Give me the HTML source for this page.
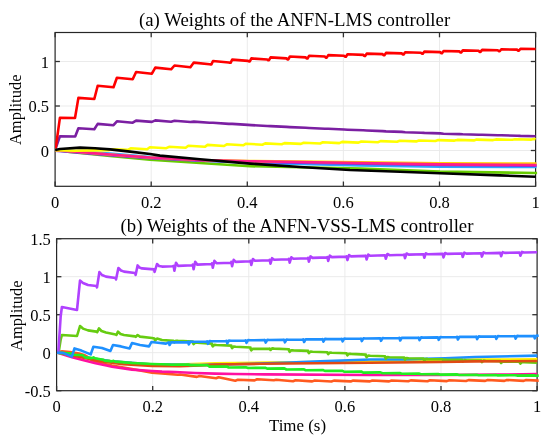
<!DOCTYPE html>
<html><head><meta charset="utf-8"><title>Weights</title>
<style>
html,body{margin:0;padding:0;background:#fff;}
svg{display:block;}
text{font-family:"Liberation Serif",serif;fill:#000;}
.tl{font-size:16.5px;}
.ti{font-size:18.75px;}
.g{stroke:#e9e9e9;stroke-width:0.9;}
.bx{fill:none;stroke:#262626;stroke-width:1.2;}
.tk{stroke:#303030;stroke-width:1.3;}
.cv path{fill:none;stroke-width:2.6;stroke-linejoin:round;stroke-linecap:butt;}
</style></head><body>
<svg width="550" height="441" viewBox="0 0 550 441">
<rect width="550" height="441" fill="#fff"/>
<line x1="151.2" y1="32.5" x2="151.2" y2="186.3" class="g"/>
<line x1="247.3" y1="32.5" x2="247.3" y2="186.3" class="g"/>
<line x1="343.4" y1="32.5" x2="343.4" y2="186.3" class="g"/>
<line x1="439.5" y1="32.5" x2="439.5" y2="186.3" class="g"/>
<line x1="55.1" y1="150.5" x2="535.6" y2="150.5" class="g"/>
<line x1="55.1" y1="106.0" x2="535.6" y2="106.0" class="g"/>
<line x1="55.1" y1="61.5" x2="535.6" y2="61.5" class="g"/>
<rect x="55.1" y="32.5" width="480.5" height="153.8" class="bx"/>
<line x1="55.1" y1="186.3" x2="55.1" y2="181.5" class="tk"/>
<line x1="55.1" y1="32.5" x2="55.1" y2="37.3" class="tk"/>
<line x1="151.2" y1="186.3" x2="151.2" y2="181.5" class="tk"/>
<line x1="151.2" y1="32.5" x2="151.2" y2="37.3" class="tk"/>
<line x1="247.3" y1="186.3" x2="247.3" y2="181.5" class="tk"/>
<line x1="247.3" y1="32.5" x2="247.3" y2="37.3" class="tk"/>
<line x1="343.4" y1="186.3" x2="343.4" y2="181.5" class="tk"/>
<line x1="343.4" y1="32.5" x2="343.4" y2="37.3" class="tk"/>
<line x1="439.5" y1="186.3" x2="439.5" y2="181.5" class="tk"/>
<line x1="439.5" y1="32.5" x2="439.5" y2="37.3" class="tk"/>
<line x1="535.6" y1="186.3" x2="535.6" y2="181.5" class="tk"/>
<line x1="535.6" y1="32.5" x2="535.6" y2="37.3" class="tk"/>
<line x1="55.1" y1="150.5" x2="59.9" y2="150.5" class="tk"/>
<line x1="535.6" y1="150.5" x2="530.8000000000001" y2="150.5" class="tk"/>
<line x1="55.1" y1="106.0" x2="59.9" y2="106.0" class="tk"/>
<line x1="535.6" y1="106.0" x2="530.8000000000001" y2="106.0" class="tk"/>
<line x1="55.1" y1="61.5" x2="59.9" y2="61.5" class="tk"/>
<line x1="535.6" y1="61.5" x2="530.8000000000001" y2="61.5" class="tk"/>
<clipPath id="c1"><rect x="55.1" y="32.5" width="482.1" height="153.8"/></clipPath>
<g class="cv" clip-path="url(#c1)">
<path d="M55.6,148.5 L59.9,136.3 L75.2,136.5 L78.4,128.3 L94.3,129.2 L97.7,123.9 L113.5,125.2 L116.9,121.3 L132.7,122.7 L136.1,120.6 L151.9,121.9 L155.3,120.4 L171.1,121.7 L174.5,120.8 L190.4,122.0 L193.8,121.6 L209.6,122.7 L213.0,122.8 L228.8,123.9 L232.2,123.9 L248.0,124.9 L251.4,125.1 L267.2,126.0 L270.6,126.1 L286.5,126.9 L289.9,127.1 L305.7,127.8 L309.1,128.0 L324.9,128.7 L328.3,128.8 L344.1,129.5 L347.5,129.7 L363.3,130.3 L366.7,130.5 L382.6,131.1 L386.0,131.4 L401.8,131.9 L405.2,132.2 L421.0,132.7 L424.4,132.9 L440.2,133.4 L443.6,133.7 L459.4,134.1 L462.8,134.3 L478.7,134.7 L482.1,134.8 L497.9,135.2 L501.3,135.3 L517.1,135.7 L520.5,135.9 L535.6,136.3" stroke="#7b1fa2"/>
<path d="M55.5,149.5 L59.9,117.9 L75.0,118.0 L78.4,97.9 L94.3,99.0 L97.7,85.8 L113.5,87.3 L116.9,77.7 L132.7,79.2 L136.1,72.0 L151.9,73.7 L155.3,67.6 L171.1,69.3 L174.5,65.5 L190.4,67.2 L193.8,62.6 L209.6,64.3 L210.5,64.4 L211.4,64.4 L213.0,61.0 L228.8,62.5 L229.7,62.8 L230.6,62.8 L232.2,59.6 L248.0,60.9 L248.9,61.4 L249.8,61.4 L251.4,58.4 L267.2,59.5 L268.1,60.2 L269.0,60.2 L270.6,57.4 L286.5,58.4 L287.4,59.4 L288.3,59.4 L289.9,56.5 L305.7,57.4 L306.6,58.5 L307.5,58.5 L309.1,55.8 L324.9,56.5 L325.8,57.6 L326.7,57.6 L328.3,55.1 L344.1,55.7 L345.0,56.8 L345.9,56.8 L347.5,54.3 L363.3,54.9 L364.2,56.0 L365.1,56.0 L366.7,53.6 L382.6,54.1 L383.5,55.2 L384.4,55.2 L386.0,52.9 L401.8,53.4 L402.7,54.5 L403.6,54.5 L405.2,52.2 L421.0,52.7 L421.9,53.8 L422.8,53.8 L424.4,51.6 L440.2,52.1 L441.1,53.2 L442.0,53.2 L443.6,51.0 L459.4,51.4 L460.3,52.5 L461.2,52.5 L462.8,50.4 L478.7,50.8 L479.6,51.9 L480.5,51.9 L482.1,49.9 L497.9,50.2 L498.8,51.3 L499.7,51.3 L501.3,49.3 L517.1,49.6 L518.0,50.7 L518.9,50.7 L520.5,48.7 L535.6,49.0" stroke="#ff0000"/>
<path d="M55.0,150.0 L70.0,152.0 L110.0,156.0 L150.0,159.8 L200.0,163.0 L250.0,166.2 L300.0,167.3 L360.0,168.5 L440.0,171.6 L535.7,173.0 L537.5,173.0" stroke="#66cc00"/>
<path d="M55.0,150.0 L80.0,151.5 L110.0,153.5 L150.0,157.0 L200.0,160.5 L250.0,162.8 L300.0,164.0 L360.0,165.5 L440.0,166.6 L536.5,167.0" stroke="#2aa8ff"/>
<path d="M55.0,150.6 L80.0,152.6 L110.0,155.1 L150.0,158.1 L200.0,160.6 L250.0,161.8 L300.0,162.6 L360.0,163.6 L440.0,165.0 L536.5,165.6" stroke="#8a2be2"/>
<path d="M55.0,150.0 L80.0,152.0 L110.0,154.5 L150.0,157.5 L200.0,160.0 L250.0,161.1 L300.0,161.6 L360.0,162.3 L440.0,163.3 L536.5,163.6" stroke="#ffd400"/>
<path d="M55.0,150.0 L80.0,152.0 L110.0,154.5 L150.0,157.5 L200.0,160.0 L250.0,161.2 L300.0,162.0 L360.0,163.0 L440.0,164.4 L536.5,165.0" stroke="#ff1c8c"/>
<path d="M55.0,150.3 L75.0,150.7 L95.0,150.4 L108.5,150.3 L111.5,149.2 L127.9,149.9 L130.7,148.3 L147.1,149.3 L149.9,147.2 L166.3,148.2 L169.1,146.8 L185.6,147.8 L188.4,145.7 L204.8,146.8 L207.6,144.9 L224.0,146.0 L226.8,144.3 L243.2,145.3 L246.0,143.7 L262.4,144.7 L265.2,143.4 L281.7,144.3 L284.5,143.1 L300.9,143.9 L303.7,142.7 L320.1,143.5 L322.9,142.3 L339.3,143.1 L342.1,141.9 L358.5,142.6 L361.3,141.5 L377.8,142.2 L380.6,141.1 L397.0,141.8 L399.8,140.8 L416.2,141.4 L419.0,140.5 L435.4,141.0 L438.2,140.1 L454.6,140.6 L457.4,139.9 L473.9,140.4 L476.7,139.6 L493.1,140.1 L495.9,139.4 L512.3,139.8 L515.1,139.2 L531.5,139.6 L534.3,138.9 L535.6,139.3" stroke="#ffff00"/>
<path d="M55.0,150.0 L60.0,149.0 L80.0,147.6 L95.0,148.2 L110.0,149.4 L130.0,151.6 L150.0,154.0 L160.0,155.6 L200.0,159.2 L250.0,163.6 L300.0,167.0 L350.0,170.0 L400.0,171.8 L440.0,173.2 L500.0,175.4 L535.7,176.8" stroke="#000000"/>
</g>
<text x="55.1" y="207.8" class="tl" text-anchor="middle">0</text>
<text x="151.2" y="207.8" class="tl" text-anchor="middle">0.2</text>
<text x="247.3" y="207.8" class="tl" text-anchor="middle">0.4</text>
<text x="343.4" y="207.8" class="tl" text-anchor="middle">0.6</text>
<text x="439.5" y="207.8" class="tl" text-anchor="middle">0.8</text>
<text x="535.6" y="207.8" class="tl" text-anchor="middle">1</text>
<text x="49" y="156.7" class="tl" text-anchor="end">0</text>
<text x="49" y="112.2" class="tl" text-anchor="end">0.5</text>
<text x="49" y="67.7" class="tl" text-anchor="end">1</text>
<text x="294.6" y="26" class="ti" text-anchor="middle">(a) Weights of the ANFN-LMS controller</text>
<text transform="translate(21.3,109.8) rotate(-90)" class="tl" text-anchor="middle">Amplitude</text>
<line x1="152.7" y1="238.7" x2="152.7" y2="390.7" class="g"/>
<line x1="248.8" y1="238.7" x2="248.8" y2="390.7" class="g"/>
<line x1="344.9" y1="238.7" x2="344.9" y2="390.7" class="g"/>
<line x1="441.0" y1="238.7" x2="441.0" y2="390.7" class="g"/>
<line x1="56.6" y1="352.7" x2="537.1" y2="352.7" class="g"/>
<line x1="56.6" y1="314.7" x2="537.1" y2="314.7" class="g"/>
<line x1="56.6" y1="276.7" x2="537.1" y2="276.7" class="g"/>
<rect x="56.6" y="238.7" width="480.5" height="152.0" class="bx"/>
<line x1="56.6" y1="390.7" x2="56.6" y2="385.9" class="tk"/>
<line x1="56.6" y1="238.7" x2="56.6" y2="243.5" class="tk"/>
<line x1="152.7" y1="390.7" x2="152.7" y2="385.9" class="tk"/>
<line x1="152.7" y1="238.7" x2="152.7" y2="243.5" class="tk"/>
<line x1="248.8" y1="390.7" x2="248.8" y2="385.9" class="tk"/>
<line x1="248.8" y1="238.7" x2="248.8" y2="243.5" class="tk"/>
<line x1="344.9" y1="390.7" x2="344.9" y2="385.9" class="tk"/>
<line x1="344.9" y1="238.7" x2="344.9" y2="243.5" class="tk"/>
<line x1="441.0" y1="390.7" x2="441.0" y2="385.9" class="tk"/>
<line x1="441.0" y1="238.7" x2="441.0" y2="243.5" class="tk"/>
<line x1="537.1" y1="390.7" x2="537.1" y2="385.9" class="tk"/>
<line x1="537.1" y1="238.7" x2="537.1" y2="243.5" class="tk"/>
<line x1="56.6" y1="390.7" x2="61.4" y2="390.7" class="tk"/>
<line x1="537.1" y1="390.7" x2="532.3000000000001" y2="390.7" class="tk"/>
<line x1="56.6" y1="352.7" x2="61.4" y2="352.7" class="tk"/>
<line x1="537.1" y1="352.7" x2="532.3000000000001" y2="352.7" class="tk"/>
<line x1="56.6" y1="314.7" x2="61.4" y2="314.7" class="tk"/>
<line x1="537.1" y1="314.7" x2="532.3000000000001" y2="314.7" class="tk"/>
<line x1="56.6" y1="276.7" x2="61.4" y2="276.7" class="tk"/>
<line x1="537.1" y1="276.7" x2="532.3000000000001" y2="276.7" class="tk"/>
<line x1="56.6" y1="238.7" x2="61.4" y2="238.7" class="tk"/>
<line x1="537.1" y1="238.7" x2="532.3000000000001" y2="238.7" class="tk"/>
<clipPath id="c2"><rect x="56.6" y="238.7" width="482.1" height="152.0"/></clipPath>
<g class="cv" clip-path="url(#c2)">
<path d="M57.0,352.5 L62.0,351.3 L70.0,352.0 L79.0,353.6 L84.0,355.0 L88.0,357.2 L92.0,360.4 L97.0,362.4 L112.0,365.6 L132.0,369.0 L152.0,372.6 L162.0,373.4 L177.7,374.8 L180.2,374.5 L196.9,376.9 L199.4,376.0 L216.1,378.2 L218.6,377.2 L235.3,380.7 L237.8,379.8 L254.6,380.4 L257.1,379.3 L273.8,380.3 L276.3,379.7 L293.0,381.2 L295.5,380.3 L312.2,381.4 L314.7,380.5 L331.4,381.5 L333.9,380.6 L350.7,381.4 L353.2,380.6 L369.9,381.4 L372.4,380.5 L389.1,381.4 L391.6,380.5 L408.3,381.3 L410.8,380.4 L427.5,381.2 L430.0,380.3 L446.8,381.1 L449.3,380.2 L466.0,381.0 L468.5,380.1 L485.2,380.9 L487.7,380.0 L504.4,380.9 L506.9,380.0 L523.6,380.9 L526.1,380.0 L542.9,380.8 L545.4,379.9 L562.1,380.8" stroke="#ff5a1f"/>
<path d="M57.0,352.5 L64.0,354.8 L72.0,357.3 L84.7,360.5 L95.6,363.3 L106.5,365.5 L112.0,366.7 L132.0,369.6 L152.0,371.0 L162.0,371.6 L175.0,372.0 L195.0,373.0 L215.0,373.6 L235.0,374.0 L265.0,374.4 L370.0,375.0 L435.0,375.0 L500.0,374.6 L537.3,374.0" stroke="#ff10a0"/>
<path d="M57.0,352.5 L80.0,356.5 L110.0,361.0 L150.0,364.2 L185.0,364.2 L215.0,363.4 L265.0,362.6 L370.0,361.6 L405.0,361.0 L441.0,359.9 L475.0,359.6 L537.3,359.3" stroke="#ffee00"/>
<path d="M57.0,352.5 L80.0,356.5 L110.0,361.0 L150.0,364.4 L200.0,365.0 L260.0,363.6 L290.0,362.6 L320.0,361.4 L370.0,359.5 L405.0,359.4 L445.0,358.2 L475.0,357.0 L537.3,355.6" stroke="#1e90ff"/>
<path d="M58.6,352.6 L60.6,340.0 L61.9,335.0 L77.0,336.0 L80.0,326.0 L83.0,328.6 L88.0,330.4 L96.4,331.6 L97.2,332.2 L99.0,328.4 L101.5,331.0 L106.0,332.4 L115.6,334.4 L116.4,335.0 L118.0,331.6 L120.5,334.0 L124.0,335.0 L135.0,336.4 L135.8,336.8 L137.6,335.0 L140.0,336.6 L152.0,338.0 L154.4,338.6 L155.0,340.6 L157.0,338.6 L162.0,340.0 L173.6,340.9 L174.4,342.3 L176.0,340.7 L178.1,340.9 L192.8,341.5 L192.8,342.8 L193.6,344.2 L195.2,342.6 L197.3,342.8 L212.0,343.6 L212.0,345.0 L212.8,346.4 L214.4,344.8 L216.5,345.0 L231.3,345.6 L231.3,346.7 L232.1,348.1 L233.7,346.5 L235.8,346.7 L250.5,347.5 L250.5,348.9 L251.3,350.3 L252.9,348.7 L255.0,348.9 L269.7,348.8 L269.7,348.6 L270.5,350.0 L272.1,348.4 L274.2,348.6 L288.9,349.3 L288.9,350.4 L289.7,351.8 L291.3,350.2 L293.4,350.4 L308.1,350.9 L308.1,351.8 L308.9,353.2 L310.5,351.6 L312.6,351.8 L327.4,352.2 L327.4,352.8 L328.2,354.2 L329.8,352.6 L331.9,352.8 L346.6,353.2 L346.6,353.9 L347.4,355.3 L349.0,353.7 L351.1,353.9 L365.8,354.6 L365.8,355.8 L366.6,357.2 L368.2,355.6 L370.3,355.8 L385.0,356.3 L385.0,357.2 L385.8,358.6 L387.4,357.0 L389.5,357.2 L404.2,357.5 L404.2,358.2 L405.0,359.6 L406.6,358.0 L408.7,358.2 L423.5,358.5 L423.5,359.1 L424.3,360.5 L425.9,358.9 L428.0,359.1 L442.7,359.3 L442.7,359.7 L443.5,361.1 L445.1,359.5 L447.2,359.7 L461.9,359.9 L461.9,360.3 L462.7,361.7 L464.3,360.1 L466.4,360.3 L481.1,360.5 L481.1,360.8 L481.9,362.2 L483.5,360.6 L485.6,360.8 L500.3,361.1 L500.3,361.6 L501.1,363.0 L502.7,361.4 L504.8,361.6 L519.6,361.8 L519.6,362.3 L520.4,363.7 L522.0,362.1 L524.1,362.3 L537.1,362.6" stroke="#66cc11"/>
<path d="M57.0,352.5 L80.0,357.0 L100.0,361.3 L123.0,364.3 L152.0,365.9 L180.0,366.2 L200.0,365.4 L215.0,364.6 L235.0,364.2 L260.0,363.8 L370.0,362.7 L440.0,362.0 L475.0,361.4 L537.3,361.0" stroke="#e04a14"/>
<path d="M57.0,352.6 L72.0,353.6 L74.0,354.8 L83.0,355.3 L85.0,357.4 L92.0,358.1 L93.5,357.3 L95.0,358.3 L103.0,359.7 L104.5,360.6 L112.0,361.4 L113.5,360.8 L115.0,361.6 L132.0,363.0 L152.0,364.0 L169.0,364.5 L171.0,364.8 L188.3,364.6 L190.3,365.3 L207.5,365.2 L209.5,366.6 L226.7,366.5 L228.7,367.5 L245.9,367.3 L247.9,368.0 L265.1,367.7 L267.1,368.6 L284.4,368.4 L286.4,369.5 L303.6,369.3 L305.6,370.2 L322.8,370.0 L324.8,370.9 L342.0,370.7 L344.0,371.7 L361.2,371.5 L363.2,372.6 L380.5,372.4 L382.5,373.2 L399.7,373.0 L401.7,373.8 L418.9,373.6 L420.9,374.2 L438.1,374.0 L440.1,374.6 L457.3,374.4 L459.3,375.0 L476.6,374.7 L478.6,375.3 L495.8,375.0 L497.8,375.4 L515.0,375.2 L517.0,375.6 L534.2,375.4 L536.2,375.7 L553.4,375.5" stroke="#22ee22"/>
<path d="M58.3,352.6 L60.7,316.0 L61.9,307.0 L77.0,310.0 L80.0,280.6 L83.0,283.0 L88.0,285.0 L96.4,286.0 L97.0,287.4 L99.4,272.0 L102.0,275.0 L106.0,276.6 L115.6,278.0 L116.0,279.4 L118.4,268.0 L121.0,270.5 L124.0,271.6 L135.0,273.0 L135.6,275.0 L137.6,265.4 L139.5,267.6 L142.0,268.4 L154.0,269.4 L154.6,272.0 L157.0,264.0 L159.0,266.0 L162.0,266.6 L172.5,266.2 L173.6,265.9 L174.4,270.8 L176.0,262.7 L178.1,265.9 L192.8,265.3 L192.8,264.6 L193.6,269.3 L195.2,261.8 L197.3,264.6 L212.0,264.0 L212.0,263.2 L212.8,267.7 L214.4,260.8 L216.5,263.2 L231.3,262.7 L231.3,261.9 L232.1,266.2 L233.7,259.8 L235.8,261.9 L250.5,261.3 L250.5,260.8 L251.3,264.9 L252.9,259.0 L255.0,260.8 L269.7,260.2 L269.7,259.8 L270.5,263.7 L272.1,258.2 L274.2,259.8 L288.9,259.2 L288.9,258.8 L289.7,262.7 L291.3,257.3 L293.4,258.8 L308.1,258.3 L308.1,257.9 L308.9,261.7 L310.5,256.4 L312.6,257.9 L327.4,257.4 L327.4,257.1 L328.2,260.9 L329.8,255.7 L331.9,257.1 L346.6,256.6 L346.6,256.4 L347.4,260.1 L349.0,255.1 L351.1,256.4 L365.8,255.9 L365.8,255.8 L366.6,259.5 L368.2,254.6 L370.3,255.8 L385.0,255.3 L385.0,255.2 L385.8,258.8 L387.4,254.0 L389.5,255.2 L404.2,254.8 L404.2,254.6 L405.0,258.2 L406.6,253.5 L408.7,254.6 L423.5,254.2 L423.5,254.3 L424.3,257.8 L425.9,253.3 L428.0,254.3 L442.7,253.9 L442.7,253.9 L443.5,257.4 L445.1,253.0 L447.2,253.9 L461.9,253.5 L461.9,253.6 L462.7,257.0 L464.3,252.7 L466.4,253.6 L481.1,253.2 L481.1,253.2 L481.9,256.6 L483.5,252.4 L485.6,253.2 L500.3,252.9 L500.3,252.9 L501.1,256.2 L502.7,252.1 L504.8,252.9 L519.6,252.5 L519.6,252.5 L520.4,255.8 L522.0,251.9 L524.1,252.5 L537.1,252.2" stroke="#b041ff"/>
<path d="M57.0,352.8 L63.0,352.9 L71.8,356.6 L74.5,348.4 L81.4,350.6 L90.7,354.4 L93.4,346.8 L102.0,348.0 L110.4,351.0 L113.0,345.0 L121.0,346.4 L129.6,348.4 L132.0,343.0 L140.0,345.0 L149.0,346.4 L151.4,342.0 L158.0,342.8 L166.0,343.6 L168.8,342.4 L169.6,345.0 L171.2,342.2 L173.3,342.4 L188.0,342.3 L188.0,341.8 L188.8,344.4 L190.4,341.6 L192.5,341.8 L207.2,341.6 L207.2,341.2 L208.0,343.8 L209.6,341.0 L211.7,341.2 L226.5,341.0 L226.5,340.7 L227.3,343.3 L228.9,340.5 L231.0,340.7 L245.7,340.5 L245.7,340.3 L246.5,342.9 L248.1,340.1 L250.2,340.3 L264.9,340.1 L264.9,340.0 L265.7,342.6 L267.3,339.8 L269.4,340.0 L284.1,339.8 L284.1,339.7 L284.9,342.3 L286.5,339.5 L288.6,339.7 L303.3,339.5 L303.3,339.4 L304.1,342.0 L305.7,339.2 L307.8,339.4 L322.6,339.3 L322.6,339.1 L323.4,341.7 L325.0,338.9 L327.1,339.1 L341.8,339.0 L341.8,338.8 L342.6,341.4 L344.2,338.6 L346.3,338.8 L361.0,338.7 L361.0,338.5 L361.8,341.1 L363.4,338.3 L365.5,338.5 L380.2,338.4 L380.2,338.2 L381.0,340.8 L382.6,338.0 L384.7,338.2 L399.4,338.1 L399.4,337.9 L400.2,340.5 L401.8,337.7 L403.9,337.9 L418.7,337.8 L418.7,337.6 L419.5,340.2 L421.1,337.4 L423.2,337.6 L437.9,337.4 L437.9,337.2 L438.7,339.8 L440.3,337.0 L442.4,337.2 L457.1,337.1 L457.1,336.9 L457.9,339.5 L459.5,336.7 L461.6,336.9 L476.3,336.8 L476.3,336.6 L477.1,339.2 L478.7,336.4 L480.8,336.6 L495.5,336.5 L495.5,336.3 L496.3,338.9 L497.9,336.1 L500.0,336.3 L514.8,336.2 L514.8,336.1 L515.6,338.7 L517.2,335.9 L519.3,336.1 L534.0,336.0 L534.0,335.8 L534.8,338.4 L536.4,335.6 L538.5,335.8 L537.1,335.7" stroke="#1e90ff"/>
</g>
<text x="56.6" y="412.4" class="tl" text-anchor="middle">0</text>
<text x="152.7" y="412.4" class="tl" text-anchor="middle">0.2</text>
<text x="248.8" y="412.4" class="tl" text-anchor="middle">0.4</text>
<text x="344.9" y="412.4" class="tl" text-anchor="middle">0.6</text>
<text x="441.0" y="412.4" class="tl" text-anchor="middle">0.8</text>
<text x="537.1" y="412.4" class="tl" text-anchor="middle">1</text>
<text x="50.8" y="396.9" class="tl" text-anchor="end">-0.5</text>
<text x="50.8" y="358.9" class="tl" text-anchor="end">0</text>
<text x="50.8" y="320.9" class="tl" text-anchor="end">0.5</text>
<text x="50.8" y="282.9" class="tl" text-anchor="end">1</text>
<text x="50.8" y="244.9" class="tl" text-anchor="end">1.5</text>
<text x="297" y="232" class="ti" text-anchor="middle">(b) Weights of the ANFN-VSS-LMS controller</text>
<text transform="translate(21.5,315.6) rotate(-90)" class="tl" text-anchor="middle">Amplitude</text>
<text x="297.5" y="431" class="tl" style="font-size:16.9px" text-anchor="middle">Time (s)</text>
</svg>
</body></html>
